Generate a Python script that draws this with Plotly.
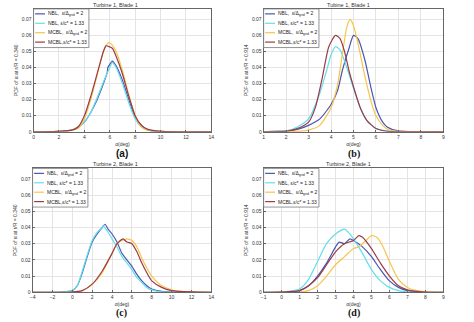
import plotly.graph_objects as go

# ---------------- data ----------------
names = ["NBL,  ε/Δ<sub>grid</sub> = 2", "NBL, ε/c* = 1.33",
         "MCBL,  ε/Δ<sub>grid</sub> = 2", "MCBL,ε/c* = 1.33"]
colors = ["#4a56b4", "#62dfea", "#f6c54a", "#9c3a48"]

titles = ["Turbine 1, Blade 1", "Tubine 1, Blade 1", "Turbine 2, Blade 1", "Turbine 2, Blade 1"]
ytitles = ["PDF of α at r/R = 0.340", "PDF of α at r/R = 0.914",
           "PDF of α at r/R = 0.340", "PDF of α at r/R = 0.914"]
panel_labels = ["(a)", "(b)", "(c)", "(d)"]
xranges = [[0, 14], [1, 9], [-4, 14], [-1, 9]]
xdticks = [2, 1, 2, 1]
ytick_vals = [0, 0.01, 0.02, 0.03, 0.04, 0.05, 0.06, 0.07]
ytick_text = ["0", "0.01", "0.02", "0.03", "0.04", "0.05", "0.06", "0.07"]

# panel (a)
a_nbl_d_x = [0, 2, 3, 3.5, 4, 4.5, 5, 5.5, 5.8, 5.85, 6.0, 6.2, 6.5, 7, 7.5, 8, 8.5, 9, 10, 14]
a_nbl_d_y = [0, 0.0002, 0.001, 0.003, 0.006, 0.012, 0.020, 0.030, 0.037, 0.040, 0.042, 0.044, 0.041, 0.032, 0.020, 0.009, 0.004, 0.001, 0.0002, 0]
a_nbl_c_x = [0, 2, 3, 3.5, 4, 4.5, 5, 5.5, 6.0, 6.2, 6.5, 7, 7.5, 8, 8.5, 9, 10, 14]
a_nbl_c_y = [0, 0.0002, 0.001, 0.003, 0.006, 0.012, 0.021, 0.031, 0.040, 0.043, 0.040, 0.030, 0.018, 0.008, 0.003, 0.001, 0.0002, 0]
a_mc_d_x = [0, 2, 3, 3.5, 4, 4.5, 5, 5.5, 5.9, 6.2, 6.5, 7, 7.5, 8, 8.5, 9, 10, 14]
a_mc_d_y = [0, 0.0002, 0.0008, 0.002, 0.008, 0.020, 0.035, 0.050, 0.0555, 0.054, 0.050, 0.038, 0.023, 0.010, 0.003, 0.001, 0.0003, 0]
a_mc_c_x = [0, 2, 3, 3.5, 4, 4.5, 5, 5.5, 5.7, 6.2, 6.5, 7, 7.5, 8, 8.5, 9, 10, 14]
a_mc_c_y = [0, 0.0003, 0.001, 0.003, 0.010, 0.022, 0.036, 0.050, 0.0535, 0.052, 0.047, 0.036, 0.022, 0.010, 0.004, 0.0015, 0.0003, 0]

# panel (b)
b_nbl_d_x = [1, 2, 2.5, 3, 3.5, 4, 4.3, 4.5, 4.8, 5.0, 5.2, 5.5, 5.8, 6.0, 6.3, 6.5, 7, 9]
b_nbl_d_y = [0, 0.0005, 0.0015, 0.004, 0.008, 0.017, 0.026, 0.038, 0.052, 0.060, 0.058, 0.045, 0.026, 0.015, 0.006, 0.003, 0.0005, 0]
b_nbl_c_x = [1, 2, 2.5, 3, 3.5, 3.8, 4.0, 4.2, 4.4, 4.7, 5.0, 5.3, 5.6, 6.0, 6.5, 7, 9]
b_nbl_c_y = [0, 0.0005, 0.003, 0.008, 0.024, 0.038, 0.048, 0.053, 0.051, 0.040, 0.027, 0.015, 0.007, 0.002, 0.0005, 0.0001, 0]
b_mc_d_x = [1, 2.5, 3, 3.5, 4, 4.3, 4.5, 4.7, 4.85, 5.0, 5.2, 5.5, 5.8, 6.0, 6.3, 6.6, 7, 9]
b_mc_d_y = [0, 0.0002, 0.001, 0.004, 0.015, 0.030, 0.048, 0.065, 0.070, 0.066, 0.055, 0.035, 0.018, 0.010, 0.004, 0.001, 0.0002, 0]
b_mc_c_x = [1, 2, 2.5, 3, 3.3, 3.6, 3.9, 4.2, 4.4, 4.6, 4.8, 5.0, 5.3, 5.6, 6.0, 6.5, 9]
b_mc_c_y = [0, 0.0003, 0.002, 0.006, 0.015, 0.033, 0.053, 0.060, 0.058, 0.050, 0.038, 0.028, 0.015, 0.007, 0.002, 0.0003, 0]

# panel (c)
c_nbl_d_x = [-4, -1, 0, 0.5, 1, 1.5, 2, 2.5, 3, 3.3, 3.6, 4, 4.5, 5, 5.5, 6, 6.5, 7, 7.5, 8, 9, 10, 14]
c_nbl_d_y = [0, 0.0001, 0.001, 0.004, 0.012, 0.022, 0.031, 0.036, 0.040, 0.042, 0.039, 0.036, 0.031, 0.024, 0.020, 0.016, 0.011, 0.007, 0.004, 0.002, 0.0005, 0.0001, 0]
c_nbl_c_x = [-4, -1, 0, 0.5, 1, 1.5, 2, 2.5, 3, 3.1, 3.5, 4, 4.5, 5, 5.5, 6, 6.5, 7, 7.5, 8, 9, 14]
c_nbl_c_y = [0, 0.0001, 0.001, 0.004, 0.013, 0.023, 0.032, 0.037, 0.040, 0.041, 0.038, 0.033, 0.028, 0.022, 0.018, 0.014, 0.009, 0.006, 0.003, 0.0015, 0.0003, 0]
c_mc_d_x = [-4, 0, 1, 2, 3, 4, 4.5, 5, 5.5, 6, 6.5, 7, 7.5, 8, 9, 10, 11, 13, 14]
c_mc_d_y = [0, 0.0001, 0.001, 0.005, 0.012, 0.024, 0.030, 0.032, 0.033, 0.032, 0.028, 0.021, 0.015, 0.010, 0.004, 0.0015, 0.0005, 0.0001, 0]
c_mc_c_x = [-4, 0, 1, 2, 3, 4, 4.5, 5.1, 5.5, 6, 6.5, 7, 7.5, 8, 9, 10, 12, 14]
c_mc_c_y = [0, 0.0001, 0.001, 0.005, 0.013, 0.024, 0.030, 0.033, 0.031, 0.030, 0.025, 0.018, 0.012, 0.007, 0.003, 0.001, 0.0002, 0]

# panel (d)
d_nbl_d_x = [-1, 0, 1, 1.5, 2, 2.5, 3, 3.2, 3.5, 3.8, 4, 4.5, 5, 5.5, 6, 6.5, 7, 8, 9]
d_nbl_d_y = [0, 0.0001, 0.001, 0.004, 0.010, 0.018, 0.028, 0.031, 0.030, 0.033, 0.032, 0.028, 0.022, 0.014, 0.007, 0.003, 0.001, 0.0001, 0]
d_nbl_c_x = [-1, 0, 1, 1.5, 2, 2.5, 3, 3.5, 3.8, 4, 4.5, 5, 5.5, 6, 6.5, 7, 9]
d_nbl_c_y = [0, 0.0001, 0.002, 0.008, 0.019, 0.030, 0.036, 0.039, 0.036, 0.033, 0.024, 0.014, 0.007, 0.003, 0.001, 0.0002, 0]
d_mc_d_x = [-1, 1, 1.5, 2, 2.5, 3, 3.5, 4, 4.3, 4.6, 5, 5.3, 5.6, 6, 6.5, 7, 7.5, 8, 9]
d_mc_d_y = [0, 0.0002, 0.001, 0.004, 0.010, 0.017, 0.022, 0.027, 0.028, 0.031, 0.035, 0.034, 0.029, 0.019, 0.008, 0.003, 0.001, 0.0003, 0]
d_mc_c_x = [-1, 0, 1, 1.5, 2, 2.5, 3, 3.5, 4, 4.3, 4.5, 5, 5.5, 6, 6.5, 7, 8, 9]
d_mc_c_y = [0, 0.0001, 0.001, 0.004, 0.009, 0.017, 0.025, 0.030, 0.032, 0.035, 0.034, 0.027, 0.018, 0.010, 0.004, 0.0015, 0.0001, 0]

panels = [
    [(a_nbl_d_x, a_nbl_d_y), (a_nbl_c_x, a_nbl_c_y), (a_mc_d_x, a_mc_d_y), (a_mc_c_x, a_mc_c_y)],
    [(b_nbl_d_x, b_nbl_d_y), (b_nbl_c_x, b_nbl_c_y), (b_mc_d_x, b_mc_d_y), (b_mc_c_x, b_mc_c_y)],
    [(c_nbl_d_x, c_nbl_d_y), (c_nbl_c_x, c_nbl_c_y), (c_mc_d_x, c_mc_d_y), (c_mc_c_x, c_mc_c_y)],
    [(d_nbl_d_x, d_nbl_d_y), (d_nbl_c_x, d_nbl_c_y), (d_mc_d_x, d_mc_d_y), (d_mc_c_x, d_mc_c_y)],
]

# ---------------- layout geometry (pixels) ----------------
W, H = 474, 322
boxes = [(31, 211, 9, 133), (264, 446, 9, 133), (30, 211, 170, 295), (264, 446, 170, 295)]
title_cx = [114, 350, 114, 350]
YMAX = 0.0765


def px(x):
    return x / W


def py(y):
    return 1 - y / H


fig = go.Figure()
layout = dict(width=W, height=H, margin=dict(l=0, r=0, t=0, b=0),
              paper_bgcolor="white", plot_bgcolor="white", showlegend=False,
              font=dict(family="Arial, Liberation Sans, sans-serif", size=5, color="#333333"))
annotations = []
shapes = []

for i, (series, box) in enumerate(zip(panels, boxes)):
    k = "" if i == 0 else str(i + 1)
    x0, x1, y0, y1 = box
    xd = [px(x0), px(x1)]
    yd = [py(y1), py(y0)]
    for j, (xs, ys) in enumerate(series):
        fig.add_trace(go.Scatter(x=xs, y=ys, mode="lines", name=names[j],
                                 line=dict(color=colors[j], width=1.2, shape="spline", smoothing=0.6),
                                 xaxis="x" + k, yaxis="y" + k))
    axcommon = dict(showline=True, linecolor="#666666", linewidth=1, mirror=True,
                    showgrid=True, gridcolor="#e4e4e4", gridwidth=1, zeroline=False,
                    ticks="inside", ticklen=2, tickcolor="#666666",
                    tickfont=dict(size=5, color="#333333"))
    layout["xaxis" + k] = dict(domain=xd, range=xranges[i], dtick=xdticks[i], tick0=0,
                               anchor="y" + k, title=dict(text="α(deg)", standoff=3,
                                                          font=dict(size=5)), **axcommon)
    layout["yaxis" + k] = dict(domain=yd, range=[0, YMAX], tickvals=ytick_vals, ticktext=ytick_text,
                               anchor="x" + k, title=dict(text=ytitles[i], standoff=3,
                                                          font=dict(size=5)), **axcommon)
    # manual legend
    lx0, ly0 = x0, y0
    shapes.append(dict(type="rect", xref="paper", yref="paper",
                       x0=px(lx0), x1=px(lx0 + 56), y0=py(ly0 + 39), y1=py(ly0),
                       line=dict(color="#777777", width=0.8), fillcolor="white", layer="above"))
    for j in range(4):
        ey = ly0 + 5 + j * 9.5
        shapes.append(dict(type="line", xref="paper", yref="paper",
                           x0=px(lx0 + 1.5), x1=px(lx0 + 11.5), y0=py(ey), y1=py(ey),
                           line=dict(color=colors[j], width=1.2), layer="above"))
        annotations.append(dict(text=names[j], x=px(lx0 + 12.5), y=py(ey), xref="paper", yref="paper",
                                showarrow=False, xanchor="left", yanchor="middle",
                                font=dict(size=5, color="#222222")))
    annotations.append(dict(text=titles[i], x=px(title_cx[i]), y=py(y0 - 4),
                            xref="paper", yref="paper", showarrow=False,
                            xanchor="center", yanchor="middle",
                            font=dict(size=5.5, color="#333333")))
    lab_y = 155 if i < 2 else 316
    fam = "Arial, Liberation Sans, sans-serif" if i == 0 else "Liberation Serif, Times New Roman, serif"
    annotations.append(dict(text="<b>" + panel_labels[i] + "</b>", x=(xd[0] + xd[1]) / 2,
                            y=py(lab_y), xref="paper", yref="paper", showarrow=False,
                            xanchor="center", yanchor="middle",
                            font=dict(size=10, color="#111111", family=fam)))

layout["annotations"] = annotations
layout["shapes"] = shapes
fig.update_layout(**layout)
fig.write_html("out.html")
